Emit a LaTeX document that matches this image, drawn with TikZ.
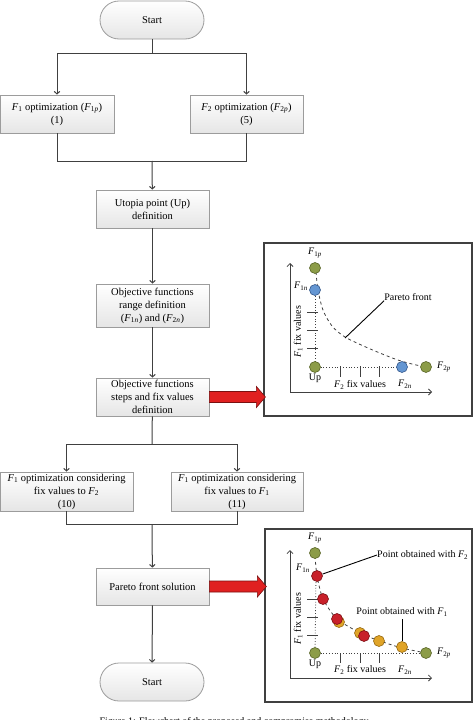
\documentclass[tikz,border=0pt]{standalone}
\usepackage{fontspec}
\setmainfont{Liberation Serif}
\usetikzlibrary{arrows.meta,calc}
\definecolor{boxgray}{HTML}{9C9C9C}
\definecolor{linegray}{HTML}{404040}
\definecolor{arrowred}{HTML}{E02020}
\definecolor{arrowredD}{HTML}{7A1010}
\definecolor{ptgreen}{HTML}{8C9C48}
\definecolor{ptgreenD}{HTML}{5A6628}
\definecolor{ptblue}{HTML}{6496D2}
\definecolor{ptblueD}{HTML}{36598C}
\definecolor{ptred}{HTML}{C8202A}
\definecolor{ptredD}{HTML}{7C1016}
\definecolor{ptyel}{HTML}{E0A428}
\definecolor{ptyelD}{HTML}{966A12}
\newcommand{\fsym}[1]{\textit{F}\textsubscript{#1}}
\begin{document}
\begin{tikzpicture}[x=1pt,y=-1pt,
  flowbox/.style={draw=boxgray, line width=0.8pt, top color=white, bottom color=gray!20,
    align=center, font=\fontsize{10.5}{13}\selectfont, inner sep=0pt},
  term/.style={flowbox, rounded corners=19pt, minimum width=104pt, minimum height=38pt},
  conn/.style={draw=linegray, line width=1pt},
  arr/.style={conn, -{Straight Barb[length=2.5pt,width=5.5pt]}},
  panel/.style={draw=linegray, line width=1.2pt, fill=white, inner sep=0pt},
  axis/.style={draw=linegray, line width=0.8pt, -{Straight Barb[length=3pt,width=6pt]}},
  tick/.style={draw=linegray, line width=0.8pt},
  dots/.style={draw=linegray, dotted, line width=0.8pt},
  front/.style={draw=linegray, dashed, line width=0.8pt},
  lbl/.style={font=\fontsize{10}{12}\selectfont, inner sep=0pt},
  pt/.style={circle, line width=0.6pt, minimum size=11pt, inner sep=0pt},
  gpt/.style={pt, draw=ptgreenD, fill=ptgreen},
  bpt/.style={pt, draw=ptblueD, fill=ptblue},
  rpt/.style={pt, draw=ptredD, fill=ptred},
  ypt/.style={pt, draw=ptyelD, fill=ptyel},
  redarrow/.style={fill=arrowred, draw=arrowredD, line width=0.6pt}]
\clip (0,0) rectangle (474,720);
\useasboundingbox (0,0) rectangle (474,720);
\fill[white] (0,0) rectangle (474,720);

% flowchart nodes
\node[term] (start) at (152,20) {Start};
\node[flowbox, minimum width=114pt, minimum height=38pt] (f1p) at (57,114) {\fsym{1} optimization (\fsym{1\textit{p}})\\(1)};
\node[flowbox, minimum width=113pt, minimum height=38pt] (f2p) at (246.5,114) {\fsym{2} optimization (\fsym{2\textit{p}})\\(5)};
\node[flowbox, minimum width=113pt, minimum height=38pt] (up) at (152.5,209) {Utopia point (Up)\\definition};
\node[flowbox, minimum width=113pt, minimum height=43pt] (range) at (152.5,305.5) {Objective functions\\range definition\\(\fsym{1\textit{n}}) and (\fsym{2\textit{n}})};
\node[flowbox, minimum width=113pt, minimum height=38pt] (steps) at (152.5,397) {Objective functions\\steps and fix values\\definition};
\node[flowbox, minimum width=133pt, minimum height=39pt] (c1) at (66.5,491.5) {\fsym{1} optimization considering\\fix values to \fsym{2}\\(10)};
\node[flowbox, minimum width=132pt, minimum height=39pt] (c2) at (237,491.5) {\fsym{1} optimization considering\\fix values to \fsym{1}\\(11)};
\node[flowbox, minimum width=113pt, minimum height=37pt] (pareto) at (152.5,586.5) {Pareto front solution};
\node[term] (end) at (152,682) {Start};

% connectors
\coordinate (s1) at (152,53);
\coordinate (m1) at (152,161);
\coordinate (s2) at (152,444);
\coordinate (m2) at (152,524);
\draw[conn] (start) -- (s1);
\draw[arr] (s1) -| (f1p);
\draw[arr] (s1) -| (f2p);
\draw[conn] (f1p) |- (m1);
\draw[conn] (f2p) |- (m1);
\draw[arr] (m1) -- (up);
\draw[arr] (up) -- (range);
\draw[arr] (range) -- (steps);
\draw[conn] (steps) -- (s2);
\draw[arr] (s2) -| (c1);
\draw[arr] (s2) -| (c2);
\draw[conn] (c1) |- (m2);
\draw[conn] (c2) |- (m2);
\draw[arr] (m2) -- (pareto);
\draw[arr] (pareto) -- (end);

% panels
\node[panel, minimum width=208pt, minimum height=173pt] (pan1) at (368,329.5) {};
\node[panel, minimum width=207pt, minimum height=173pt] (pan2) at (368.5,615.5) {};

% red arrows
\coordinate (t1) at (pan1.west |- steps.east);
\draw[redarrow] ($(steps.east)+(0,-5.5)$) -- ($(t1)+(-7,-5.5)$) -- ($(t1)+(-7,-10.5)$) -- ($(t1)+(2,0)$)
  -- ($(t1)+(-7,10.5)$) -- ($(t1)+(-7,5.5)$) -- ($(steps.east)+(0,5.5)$) -- cycle;
\coordinate (t2) at (pan2.west |- pareto.east);
\draw[redarrow] ($(pareto.east)+(0,-5.5)$) -- ($(t2)+(-7,-5.5)$) -- ($(t2)+(-7,-10.5)$) -- ($(t2)+(2,0)$)
  -- ($(t2)+(-7,10.5)$) -- ($(t2)+(-7,5.5)$) -- ($(pareto.east)+(0,5.5)$) -- cycle;

% ---------- panel 1 ----------
\coordinate (o1) at (290,392);
\draw[axis] (o1) -- (290,263);
\draw[axis] (o1) -- (432,392);
\draw[dots] (315,367) -- (315,290);
\draw[dots] (315,367) -- (402,367);
\foreach \yy in {312,330,348} \draw[tick] (307,\yy) -- (318,\yy);
\foreach \xx in {340,360,379} \draw[tick] (\xx,366) -- (\xx,377);
\draw[front] plot[smooth] coordinates {(316,272) (318,290) (323,310) (332,326) (345,337) (368,348) (395,359) (412,364) (426,367)};
\node[gpt] (p1F1p) at (315,268) {};
\node[bpt] (p1F1n) at (315,290) {};
\node[gpt] (p1Up) at (315,367) {};
\node[bpt] (p1F2n) at (402,367) {};
\node[gpt] (p1F2p) at (426,367) {};
\node[lbl] (l1a) at (315,253) {\fsym{1\textit{p}}};
\node[lbl] (l1b) at (301,286) {\fsym{1\textit{n}}};
\node[lbl] (l1c) at (315,378) {Up};
\node[lbl] (l1d) at (405,384) {\fsym{2\textit{n}}};
\node[lbl] (l1e) at (444,367) {\fsym{2\textit{p}}};
\node[lbl] (l1f) at (360,385) {\fsym{2} fix values};
\node[lbl, rotate=90] (l1g) at (298,332) {\fsym{1} fix values};
\node[lbl] (l1h) at (408,297) {Pareto front};
\coordinate (pf1) at (345,338);
\draw[draw=black, line width=0.9pt] (pf1) -- (l1h.south west);

% ---------- panel 2 ----------
\coordinate (o2) at (290,678);
\draw[axis] (o2) -- (290,550);
\draw[axis] (o2) -- (432,678);
\draw[dots] (315,653) -- (316,576);
\draw[dots] (315,653) -- (426,653);
\foreach \yy in {599,617,635} \draw[tick] (307,\yy) -- (318,\yy);
\foreach \xx in {340,360,379} \draw[tick] (\xx,653) -- (\xx,663);
\draw[front] plot[smooth, tension=0.4] coordinates {(315,556) (317,576) (323,599) (337,619) (362,634) (380,641) (402,648) (426,653)};
\node[gpt] (p2F1p) at (315,553) {};
\node[gpt] (p2Up) at (315,653) {};
\node[gpt] (p2F2p) at (426,653) {};
\node[ypt] (y1) at (339,622) {};
\node[ypt] (y2) at (360,633) {};
\node[ypt] (y3) at (379,641) {};
\node[ypt] (y4) at (402,647) {};
\node[rpt] (r1) at (317,576) {};
\node[rpt] (r2) at (323,599) {};
\node[rpt] (r3) at (337,619) {};
\node[rpt] (r4) at (364,636) {};
\node[lbl] (l2a) at (315,538) {\fsym{1\textit{p}}};
\node[lbl] (l2b) at (303,568) {\fsym{1\textit{n}}};
\node[lbl] (l2c) at (315,664) {Up};
\node[lbl] (l2d) at (405,670) {\fsym{2\textit{n}}};
\node[lbl] (l2e) at (444,653) {\fsym{2\textit{p}}};
\node[lbl] (l2f) at (360,670) {\fsym{2} fix values};
\node[lbl, rotate=90] (l2g) at (298,619) {\fsym{1} fix values};
\node[lbl, anchor=west] (l2h) at (377,555) {Point obtained with \fsym{2}};
\node[lbl] (l2i) at (402,612) {Point obtained with \fsym{1}};
\draw[draw=black, line width=0.9pt] (r1) -- (l2h.west);
\draw[draw=black, line width=0.9pt] (l2i.south |- 0,619) -- (y4);

% caption (cut by the lower edge)
\node[font=\fontsize{10}{12}\selectfont, anchor=base] (cap) at (235,724) {\textsc{Figure} 1: Flowchart of the proposed and compromise methodology.};
\end{tikzpicture}
\end{document}
